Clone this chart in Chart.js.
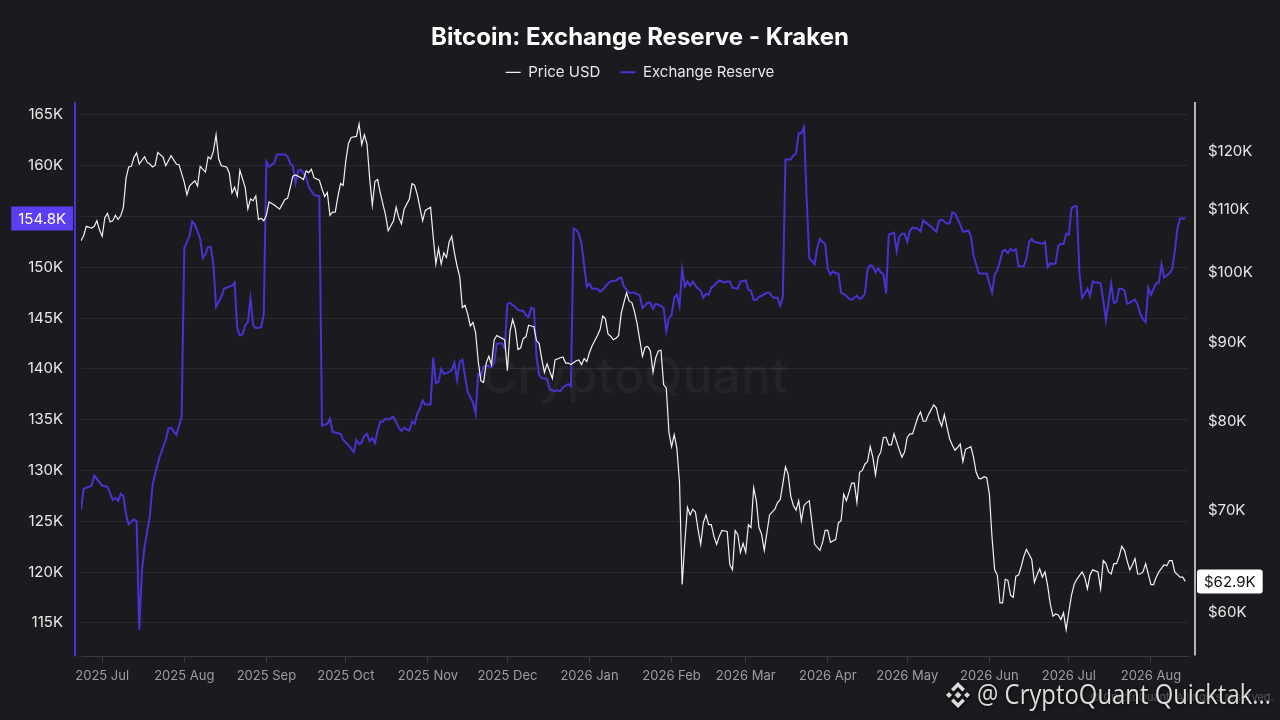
<!DOCTYPE html>
<html>
<head>
<meta charset="utf-8">
<script src="https://cdn.jsdelivr.net/npm/chart.js@4.4.1/dist/chart.umd.min.js"></script>
<style>
    html, body { margin: 0; padding: 0; background: #1b1b1f; }
    canvas { display: block; }
</style>
</head>
<body>
<canvas id="Graph" width="1280" height="720"></canvas>
<script>
// days counted from 2025-06-23
const monthDays = [8, 39, 70, 100, 131, 161, 192, 223, 251, 282, 312, 343, 373, 404];
const monthLabels = ['2025 Jul', '2025 Aug', '2025 Sep', '2025 Oct', '2025 Nov', '2025 Dec',
    '2026 Jan', '2026 Feb', '2026 Mar', '2026 Apr', '2026 May', '2026 Jun', '2026 Jul', '2026 Aug'];

const reserveTicks = [115, 120, 125, 130, 135, 140, 145, 150, 155, 160, 165];
const priceTicks = [60, 70, 80, 90, 100, 110, 120];

// Exchange Reserve (K BTC)
const reserveDays = [0,1,4,5,8,10,12,13,14,15,16,17,18,20,21,22,23,24,26,27,28,30,32,33,34,36,38,39,41,42,43,45,46,47,48,49,50,51,53,54,57,58,59,60,61,62,63,64,65,66,68,69,70,71,73,74,77,78,79,80,81,82,83,85,86,88,90,91,93,94,95,98,99,101,103,104,105,106,107,108,109,110,111,112,113,114,115,116,118,120,121,122,124,125,126,127,128,129,130,132,133,134,135,136,137,139,140,141,142,143,144,146,147,148,149,150,151,152,153,155,156,157,159,160,161,162,164,165,167,168,169,170,171,172,173,174,176,177,179,180,181,182,184,185,186,187,188,189,190,191,192,193,195,196,197,199,200,202,203,204,205,207,209,211,212,214,215,216,217,219,220,221,222,223,224,225,226,227,228,229,230,231,232,233,234,235,236,237,238,239,241,242,243,244,245,246,248,249,251,252,253,254,255,256,257,259,260,261,262,263,264,265,266,267,268,269,270,271,272,273,274,275,276,277,278,279,280,281,282,283,284,285,286,287,289,290,291,293,294,295,296,297,298,299,300,301,302,303,304,305,306,307,308,309,310,311,312,313,314,316,317,318,320,321,323,324,325,327,328,329,330,332,333,335,336,337,338,339,341,342,343,344,345,346,347,348,349,350,351,352,353,354,356,357,358,359,360,362,363,364,365,366,367,368,369,370,371,372,373,374,375,376,377,378,379,380,381,382,383,384,385,386,387,388,389,390,391,392,393,394,395,396,397,398,399,400,401,402,403,404,405,406,407,408,409,411,412,413,414,415,417];
const reserveValues = [126.1,128.2,128.5,129.5,128.5,128.4,127.1,127.3,127.0,127.7,127.5,125.7,124.7,125.2,125.0,114.3,120.1,122.5,125.5,128.5,129.7,131.6,133.0,134.1,134.2,133.5,135.3,151.9,153.1,154.5,154.2,152.8,150.9,151.3,152.0,152.0,150.2,146.1,147.1,147.9,148.2,148.5,144.0,143.3,143.4,144.3,144.6,146.9,144.3,144.0,144.1,145.3,160.4,159.9,160.3,161.1,161.1,160.9,160.2,160.0,158.3,159.5,159.6,158.9,157.9,157.1,157.0,134.4,134.6,135.1,133.8,133.6,133.0,132.5,131.8,133.0,132.6,132.8,133.4,133.6,132.9,133.2,132.7,133.9,134.8,134.8,135.1,135.0,135.3,134.2,133.9,134.2,133.9,134.8,134.6,135.6,136.1,136.9,136.5,136.5,141.1,138.6,138.7,140.0,139.5,139.7,139.9,140.6,138.9,140.7,140.9,137.7,137.2,136.7,135.6,139.5,139.3,140.2,140.3,140.2,140.6,142.5,142.5,142.0,146.4,146.5,146.1,145.8,145.7,145.3,145.1,146.0,145.9,141.2,139.4,139.1,139.0,138.0,137.8,137.9,137.8,138.2,138.5,138.3,153.8,153.7,153.3,152.3,150.2,148.1,148.4,147.9,147.9,147.6,147.8,148.4,148.6,148.7,148.9,149.0,148.1,147.5,147.5,147.2,146.0,146.5,146.5,145.9,146.4,146.2,146.0,143.7,145.0,145.3,147.0,147.3,146.2,149.8,148.1,148.6,148.2,148.6,148.2,147.9,147.7,147.0,147.4,147.3,148.0,148.2,148.7,148.6,148.5,148.6,148.6,148.0,147.9,148.6,148.7,147.8,147.7,146.8,146.8,147.1,147.2,147.5,147.5,147.1,147.0,147.0,146.2,147.1,160.6,160.6,160.6,161.0,161.2,163.2,163.2,163.8,156.8,150.9,150.6,150.3,151.9,152.8,152.5,152.3,149.8,149.3,149.6,149.4,149.4,147.5,147.2,146.9,146.8,147.2,146.9,147.0,147.4,149.8,150.2,150.1,149.5,149.9,149.5,149.3,147.4,153.2,153.3,153.4,151.6,153.0,153.3,153.3,152.5,153.6,153.9,153.8,153.5,154.6,154.2,154.0,153.5,154.6,154.7,154.3,154.3,155.4,155.3,154.2,153.5,153.6,153.1,151.2,150.3,149.4,149.4,149.4,148.4,147.5,149.3,149.7,150.6,151.6,151.7,151.4,151.8,151.6,151.8,150.1,150.1,150.9,152.5,152.8,152.5,152.4,152.3,152.5,150.0,150.4,150.3,150.4,152.1,152.3,152.3,153.3,153.2,155.8,156.0,156.0,149.5,147.0,147.4,147.9,147.2,148.6,148.5,148.5,148.4,146.8,144.8,146.6,148.4,146.5,146.6,147.9,147.9,147.7,146.4,146.5,146.7,146.8,146.3,145.4,144.9,144.6,148.0,147.3,147.9,148.4,148.5,150.3,149.0,149.4,149.8,151.6,153.8,154.8,154.8];

// Price USD (K USD)
const priceDays = [0,1,2,4,5,6,7,8,9,10,11,12,13,14,15,16,17,18,19,20,21,22,24,25,26,27,28,29,31,32,34,36,37,39,40,41,43,44,45,47,48,49,50,51,52,53,55,56,57,58,59,60,62,63,64,65,66,67,68,69,70,71,73,75,77,78,79,80,81,83,84,85,86,87,88,90,91,92,93,94,95,96,97,98,99,100,101,102,104,105,106,107,108,109,110,111,112,113,115,116,118,119,120,121,122,124,125,126,127,129,130,132,133,134,135,136,137,138,139,140,141,142,143,144,145,146,147,148,149,150,151,152,153,154,155,156,157,159,160,161,162,163,164,165,166,167,168,169,170,171,172,173,174,175,176,177,178,179,181,182,183,184,185,187,188,189,190,191,192,193,195,196,197,198,199,200,201,202,203,204,205,206,207,208,209,210,211,212,213,214,215,216,217,218,219,220,221,222,223,224,225,226,227,228,229,230,231,232,233,234,235,236,237,238,239,240,241,242,244,245,246,247,248,249,250,251,252,253,254,255,256,257,258,260,262,263,264,265,266,267,268,269,270,271,272,273,274,275,276,277,279,280,281,282,283,285,286,287,288,289,290,291,292,293,294,295,296,297,298,299,300,301,302,303,304,305,306,307,309,310,311,312,313,314,316,317,318,319,320,322,323,324,325,326,327,328,329,330,331,332,333,334,336,337,338,339,340,341,342,343,344,345,346,347,348,349,350,351,352,353,354,355,356,357,359,360,361,362,363,364,365,366,367,368,369,370,371,372,373,374,375,376,378,379,380,381,382,384,385,386,387,388,389,390,391,392,393,394,395,396,397,398,399,400,401,402,403,404,405,406,407,409,410,411,412,413,415,416,417];
const priceValues = [104.9,105.7,107.2,106.9,107.2,108.1,106.6,105.6,108.6,109.3,107.9,108.1,109.0,108.3,108.9,110.3,115.2,117.2,117.3,118.9,119.7,117.7,119.0,118.0,117.7,117.2,117.5,119.8,118.9,117.4,119.2,117.7,117.6,114.5,112.4,113.9,114.8,113.9,117.3,116.3,119.0,118.6,120.0,123.0,118.6,117.4,117.2,116.1,112.7,113.7,112.2,116.6,113.6,110.0,111.7,111.4,112.2,108.3,108.5,108.1,109.0,111.2,110.7,110.0,111.6,111.8,113.6,115.6,115.8,115.3,115.0,116.5,116.2,116.8,115.3,114.9,113.4,112.1,112.8,109.0,109.5,109.5,112.1,114.3,114.0,118.3,121.4,122.5,122.7,125.0,121.2,123.0,121.3,115.2,110.6,114.7,115.0,112.7,109.0,106.5,108.1,110.3,108.6,107.6,110.0,111.7,114.3,114.0,112.4,108.1,109.8,110.3,105.5,101.3,103.7,101.3,103.0,102.3,104.7,105.6,103.0,101.0,99.4,94.9,95.2,94.0,92.3,92.8,91.4,87.5,85.0,84.8,87.3,88.2,87.1,90.4,91.0,90.6,90.4,86.3,91.6,93.2,91.9,89.1,89.3,90.6,90.8,92.4,92.3,92.2,90.3,89.9,87.8,86.1,87.2,86.2,85.3,87.7,88.0,88.1,87.3,87.3,87.1,87.6,87.7,87.1,87.9,87.5,88.7,89.6,91.0,91.8,93.7,93.3,91.2,90.9,90.4,90.6,91.0,94.1,95.6,97.0,95.8,95.6,94.3,92.6,90.4,88.2,89.4,89.5,88.9,86.1,88.0,88.9,89.0,84.5,84.1,78.7,77.0,78.4,76.8,73.0,62.6,66.7,70.3,69.5,70.1,69.8,68.0,66.5,68.7,69.5,68.5,68.5,67.3,66.5,67.3,67.9,67.8,64.5,64.0,67.9,67.5,65.7,66.6,65.7,68.5,68.2,72.4,71.0,68.2,67.5,65.9,69.5,70.1,70.8,71.1,72.8,74.7,73.9,71.5,70.5,70.0,71.0,68.9,70.5,70.8,71.0,68.7,66.5,65.9,66.7,67.9,67.9,66.7,67.0,68.7,68.9,71.7,71.0,71.9,72.9,72.9,70.8,74.1,74.3,75.0,75.3,77.0,75.8,73.8,75.8,76.4,78.1,78.1,77.2,77.2,78.5,76.6,75.8,76.4,78.1,78.5,78.5,80.5,81.1,80.0,80.0,80.8,82.0,81.6,80.2,79.4,80.8,79.3,77.9,77.2,76.6,76.9,77.3,75.3,76.7,77.0,75.8,74.1,73.4,73.4,73.6,73.5,71.7,67.2,64.0,63.5,60.9,60.9,63.1,63.0,61.6,61.4,63.4,63.5,64.3,65.3,66.0,65.0,62.8,63.5,64.1,63.3,63.8,62.5,60.8,59.7,59.9,59.8,59.4,60.0,58.5,60.1,61.6,62.6,63.1,63.8,63.3,62.2,63.5,64.0,63.8,62.2,64.9,64.6,63.8,63.6,64.6,64.6,65.3,66.3,65.9,64.9,64.0,64.5,65.1,63.6,63.6,63.8,64.6,63.6,62.6,62.6,63.3,63.8,64.5,64.4,64.9,64.9,63.8,63.3,63.3,62.9];

const purple = '#4733cf';
const fontFamily = 'Inter, "Noto Sans", "DejaVu Sans", sans-serif';
Chart.defaults.font.family = fontFamily;

const toPoints = (days, values) => days.map((d, i) => ({ x: d, y: values[i] }));

// faint watermark under the lines
const watermark = {
    id: 'watermark',
    beforeDatasetsDraw(chart) {
        const { ctx, chartArea } = chart;
        ctx.save();
        ctx.font = '500 50px ' + fontFamily;
        ctx.fillStyle = 'rgba(255,255,255,0.045)';
        ctx.textAlign = 'center';
        ctx.textBaseline = 'middle';
        ctx.fillText('CryptoQuant', (chartArea.left + chartArea.right) / 2, (chartArea.top + chartArea.bottom) / 2 - 1);
        ctx.restore();
    }
};

// offset axis lines, last-value badges and the corner caption
const decorations = {
    id: 'decorations',
    afterDraw(chart) {
        const { ctx, chartArea, scales } = chart;
        ctx.save();

        ctx.strokeStyle = purple;
        ctx.lineWidth = 2;
        ctx.beginPath();
        ctx.moveTo(chartArea.left - 6, chartArea.top);
        ctx.lineTo(chartArea.left - 6, chartArea.bottom);
        ctx.stroke();

        ctx.strokeStyle = '#e8e8e8';
        ctx.lineWidth = 1.5;
        ctx.beginPath();
        ctx.moveTo(chartArea.right + 7, chartArea.top);
        ctx.lineTo(chartArea.right + 7, chartArea.bottom - 1);
        ctx.stroke();

        ctx.font = '15px ' + fontFamily;
        ctx.textBaseline = 'middle';
        ctx.textAlign = 'center';

        const lastRes = reserveValues[reserveValues.length - 1];
        const resText = lastRes.toFixed(1) + 'K';
        const ry = scales.yR.getPixelForValue(lastRes);
        const rw = ctx.measureText(resText).width + 14;
        ctx.fillStyle = '#5a3ef2';
        ctx.fillRect(chartArea.left - 8 - rw, ry - 12, rw, 24);
        ctx.fillStyle = '#ffffff';
        ctx.fillText(resText, chartArea.left - 8 - rw / 2, ry + 1);

        const lastPrice = priceValues[priceValues.length - 1];
        const priceText = '$' + lastPrice.toFixed(1) + 'K';
        const py = scales.yP.getPixelForValue(lastPrice);
        const pw = ctx.measureText(priceText).width + 14;
        ctx.fillStyle = '#ffffff';
        ctx.beginPath();
        ctx.roundRect(chartArea.right + 9, py - 12, pw, 24, 3);
        ctx.fill();
        ctx.fillStyle = '#111111';
        ctx.fillText(priceText, chartArea.right + 9 + pw / 2, py + 1);

        // copyright line
        ctx.font = '11px ' + fontFamily;
        ctx.fillStyle = 'rgba(200,200,205,0.35)';
        ctx.textAlign = 'left';
        ctx.fillText('© CryptoQuant. All rights reserved.', 1090, 698);

        // caption overlay
        ctx.shadowColor = 'rgba(0,0,0,0.85)';
        ctx.shadowBlur = 4;
        ctx.shadowOffsetX = 1;
        ctx.shadowOffsetY = 1;
        ctx.fillStyle = '#dcdcdc';
        const cx = 958, cy = 695;
        const diamond = (x, y, r) => {
            ctx.beginPath();
            ctx.moveTo(x, y - r);
            ctx.lineTo(x + r, y);
            ctx.lineTo(x, y + r);
            ctx.lineTo(x - r, y);
            ctx.closePath();
            ctx.fill();
        };
        diamond(cx, cy, 3.5);
        diamond(cx - 9, cy, 3);
        diamond(cx + 9, cy, 3);
        ctx.beginPath();
        ctx.moveTo(cx, cy - 13); ctx.lineTo(cx + 7, cy - 6); ctx.lineTo(cx + 4.5, cy - 3.5);
        ctx.lineTo(cx, cy - 8); ctx.lineTo(cx - 4.5, cy - 3.5); ctx.lineTo(cx - 7, cy - 6);
        ctx.closePath(); ctx.fill();
        ctx.beginPath();
        ctx.moveTo(cx, cy + 13); ctx.lineTo(cx + 7, cy + 6); ctx.lineTo(cx + 4.5, cy + 3.5);
        ctx.lineTo(cx, cy + 8); ctx.lineTo(cx - 4.5, cy + 3.5); ctx.lineTo(cx - 7, cy + 6);
        ctx.closePath(); ctx.fill();

        ctx.font = '27px "Open Sans", ' + fontFamily;
        ctx.textBaseline = 'alphabetic';
        ctx.fillText('@ CryptoQuant Quicktak...', 977, 704, 294);
        ctx.restore();
    }
};

new Chart(document.getElementById('Graph'), {
    type: 'line',
    data: {
        datasets: [
            {
                label: 'Price USD',
                data: toPoints(priceDays, priceValues),
                borderColor: '#f2f2f2',
                backgroundColor: '#f2f2f2',
                borderWidth: 1.2,
                pointRadius: 0,
                yAxisID: 'yP'
            },
            {
                label: 'Exchange Reserve',
                data: toPoints(reserveDays, reserveValues),
                borderColor: purple,
                backgroundColor: purple,
                borderWidth: 2,
                pointRadius: 0,
                yAxisID: 'yR'
            }
        ]
    },
    options: {
        responsive: false,
        animation: false,
        layout: { padding: { left: 0, right: 0, top: 0, bottom: 30 } },
        plugins: {
            title: {
                display: true,
                text: 'Bitcoin: Exchange Reserve - Kraken',
                color: '#ffffff',
                font: { size: 24, weight: 'bold' },
                padding: { top: 23, bottom: -7 }
            },
            // empty spacer between the legend and the plot
            subtitle: {
                display: true,
                text: '',
                weight: 500,
                font: { size: 1 },
                padding: { top: 11, bottom: 0 }
            },
            legend: {
                labels: {
                    usePointStyle: true,
                    pointStyle: 'line',
                    pointStyleWidth: 15,
                    color: '#e8e8e8',
                    font: { size: 15 },
                    padding: 20
                }
            },
            tooltip: { enabled: false }
        },
        scales: {
            x: {
                type: 'linear',
                min: 0,
                max: 418,
                afterBuildTicks: scale => { scale.ticks = monthDays.map(v => ({ value: v })); },
                ticks: {
                    callback: (value, index) => monthLabels[index],
                    color: '#9c9ca4',
                    font: { size: 13 },
                    padding: 6,
                    maxRotation: 0,
                    autoSkip: false
                },
                grid: { drawOnChartArea: false, color: '#3a3a42', tickLength: 6 },
                border: { color: '#3a3a42' }
            },
            yR: {
                position: 'left',
                min: 111.7,
                max: 166.27,
                afterBuildTicks: scale => { scale.ticks = reserveTicks.map(v => ({ value: v })); },
                afterFit: scale => { scale.width = 81; },
                ticks: {
                    callback: value => value + 'K',
                    color: '#e8e8e8',
                    font: { size: 15 },
                    padding: 18,
                    autoSkip: false
                },
                grid: { color: '#2a2a30', drawTicks: false },
                border: { display: false }
            },
            yP: {
                type: 'logarithmic',
                position: 'right',
                min: 56.2,
                max: 129.2,
                afterBuildTicks: scale => { scale.ticks = priceTicks.map(v => ({ value: v })); },
                afterFit: scale => { scale.width = 92; },
                ticks: {
                    callback: value => '$' + value + 'K',
                    color: '#e8e8e8',
                    font: { size: 15 },
                    padding: 20,
                    autoSkip: false
                },
                grid: { drawOnChartArea: false, drawTicks: false },
                border: { display: false }
            }
        }
    },
    plugins: [watermark, decorations]
});
</script>
</body>
</html>
